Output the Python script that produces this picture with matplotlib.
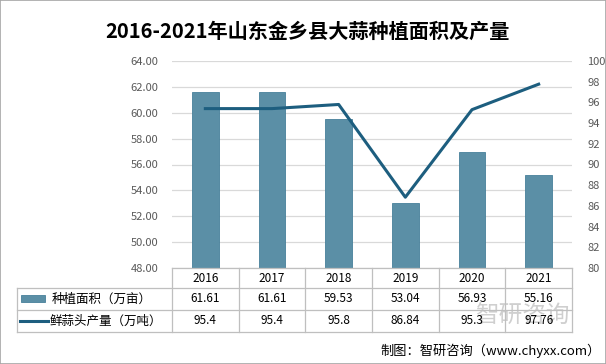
import matplotlib
matplotlib.use('Agg')
import matplotlib.pyplot as plt
from matplotlib.patches import Rectangle
from matplotlib.lines import Line2D
import numpy as np

plt.rcParams['font.family'] = ['Noto Sans CJK SC', 'DejaVu Sans']

years = ['2016', '2017', '2018', '2019', '2020', '2021']
area = [61.61, 61.61, 59.53, 53.04, 56.93, 55.16]
output = [95.4, 95.4, 95.8, 86.84, 95.3, 97.76]
area_labels = ['61.61', '61.61', '59.53', '53.04', '56.93', '55.16']
output_labels = ['95.4', '95.4', '95.8', '86.84', '95.3', '97.76']
left_ticks = np.arange(48, 64.1, 2)
right_ticks = np.arange(80, 100.1, 2)

W, H = 606, 364
bar_color = '#5B8FA6'
line_color = '#1D5E7F'
grid_color = '#D9D9D9'
tab_color = '#BFBFBF'

fig = plt.figure(figsize=(W / 100, H / 100), dpi=100)

def fx(px):
    return px / W

def fy(py):
    return 1 - py / H

x0, x1 = 172, 572
y_top, y_bot = 61, 268
ax = fig.add_axes([fx(x0), fy(y_bot), fx(x1 - x0), (y_bot - y_top) / H])
ax2 = ax.twinx()

x = np.arange(len(years))
ax.bar(x, area, width=0.4, color=bar_color, edgecolor='#47809A', linewidth=0.6, zorder=2)
ax2.plot(x, output, color=line_color, linewidth=2.2, zorder=3)

ax.set_xlim(-0.5, len(years) - 0.5)
ax.set_ylim(48, 64)
ax2.set_ylim(80, 100)
ax.set_yticks(left_ticks)
ax.set_yticklabels(['%.2f' % v for v in left_ticks])
ax2.set_yticks(right_ticks)
ax2.set_yticklabels(['%d' % v for v in right_ticks])
ax.set_xticks([])
ax.yaxis.grid(True, color=grid_color, linewidth=0.9, zorder=0)
ax.set_axisbelow(True)
for a in (ax, ax2):
    for s in a.spines.values():
        s.set_visible(False)
    a.tick_params(length=0, labelsize=8, labelcolor='#595959')
ax.tick_params(axis='y', pad=10)
ax2.tick_params(axis='y', pad=11)
ax.patch.set_alpha(0)

# table below the plot area
col_w = (x1 - x0) / len(years)
rows = [268, 288, 310, 332]
tl = 17

def hline(y, xa, xb):
    fig.add_artist(Line2D([fx(xa), fx(xb)], [fy(y), fy(y)], color=tab_color, lw=0.9))

def vline(xp, ya, yb):
    fig.add_artist(Line2D([fx(xp), fx(xp)], [fy(ya), fy(yb)], color=tab_color, lw=0.9))

hline(rows[0], x0, x1)
for r in rows[1:]:
    hline(r, tl, x1)
vline(tl, rows[1], rows[3])
for i in range(len(years) + 1):
    vline(x0 + i * col_w, rows[0], rows[3])

# watermark first so the table text sits on top
fig.text(fx(522), fy(316), '智研咨询', ha='center', va='center', fontsize=17, color='#CFCFCF', zorder=0)

for i, yr in enumerate(years):
    cx = fx(x0 + (i + 0.5) * col_w)
    fig.text(cx, fy((rows[0] + rows[1]) / 2), yr, ha='center', va='center', fontsize=8.5, color='black')
    fig.text(cx, fy((rows[1] + rows[2]) / 2), area_labels[i], ha='center', va='center', fontsize=8.5, color='black')
    fig.text(cx, fy((rows[2] + rows[3]) / 2), output_labels[i], ha='center', va='center', fontsize=8.5, color='black')

fig.add_artist(Rectangle((fx(21), fy(302)), fx(24), 7 / H, facecolor=bar_color, edgecolor='#47809A', lw=0.6))
fig.add_artist(Line2D([fx(20), fx(48)], [fy(320.5), fy(320.5)], color=line_color, lw=2.2))
fig.text(fx(52), fy((rows[1] + rows[2]) / 2), '种植面积（万亩）', ha='left', va='center', fontsize=9, color='black')
fig.text(fx(50), fy((rows[2] + rows[3]) / 2), '鲜蒜头产量（万吨）', ha='left', va='center', fontsize=9, color='black')

fig.text(0.508, fy(31), '2016-2021年山东金乡县大蒜种植面积及产量', ha='center', va='center',
         fontsize=14.5, fontweight='bold', color='black')

fig.text(fx(601), fy(351), '制图：智研咨询（www.chyxx.com）', ha='right', va='center', fontsize=9.5, color='black')

fig.add_artist(Rectangle((0, 0), 1, 1, transform=fig.transFigure, fill=False, edgecolor='#A6A6A6', lw=1.2))

fig.savefig('out.png', dpi=100)
